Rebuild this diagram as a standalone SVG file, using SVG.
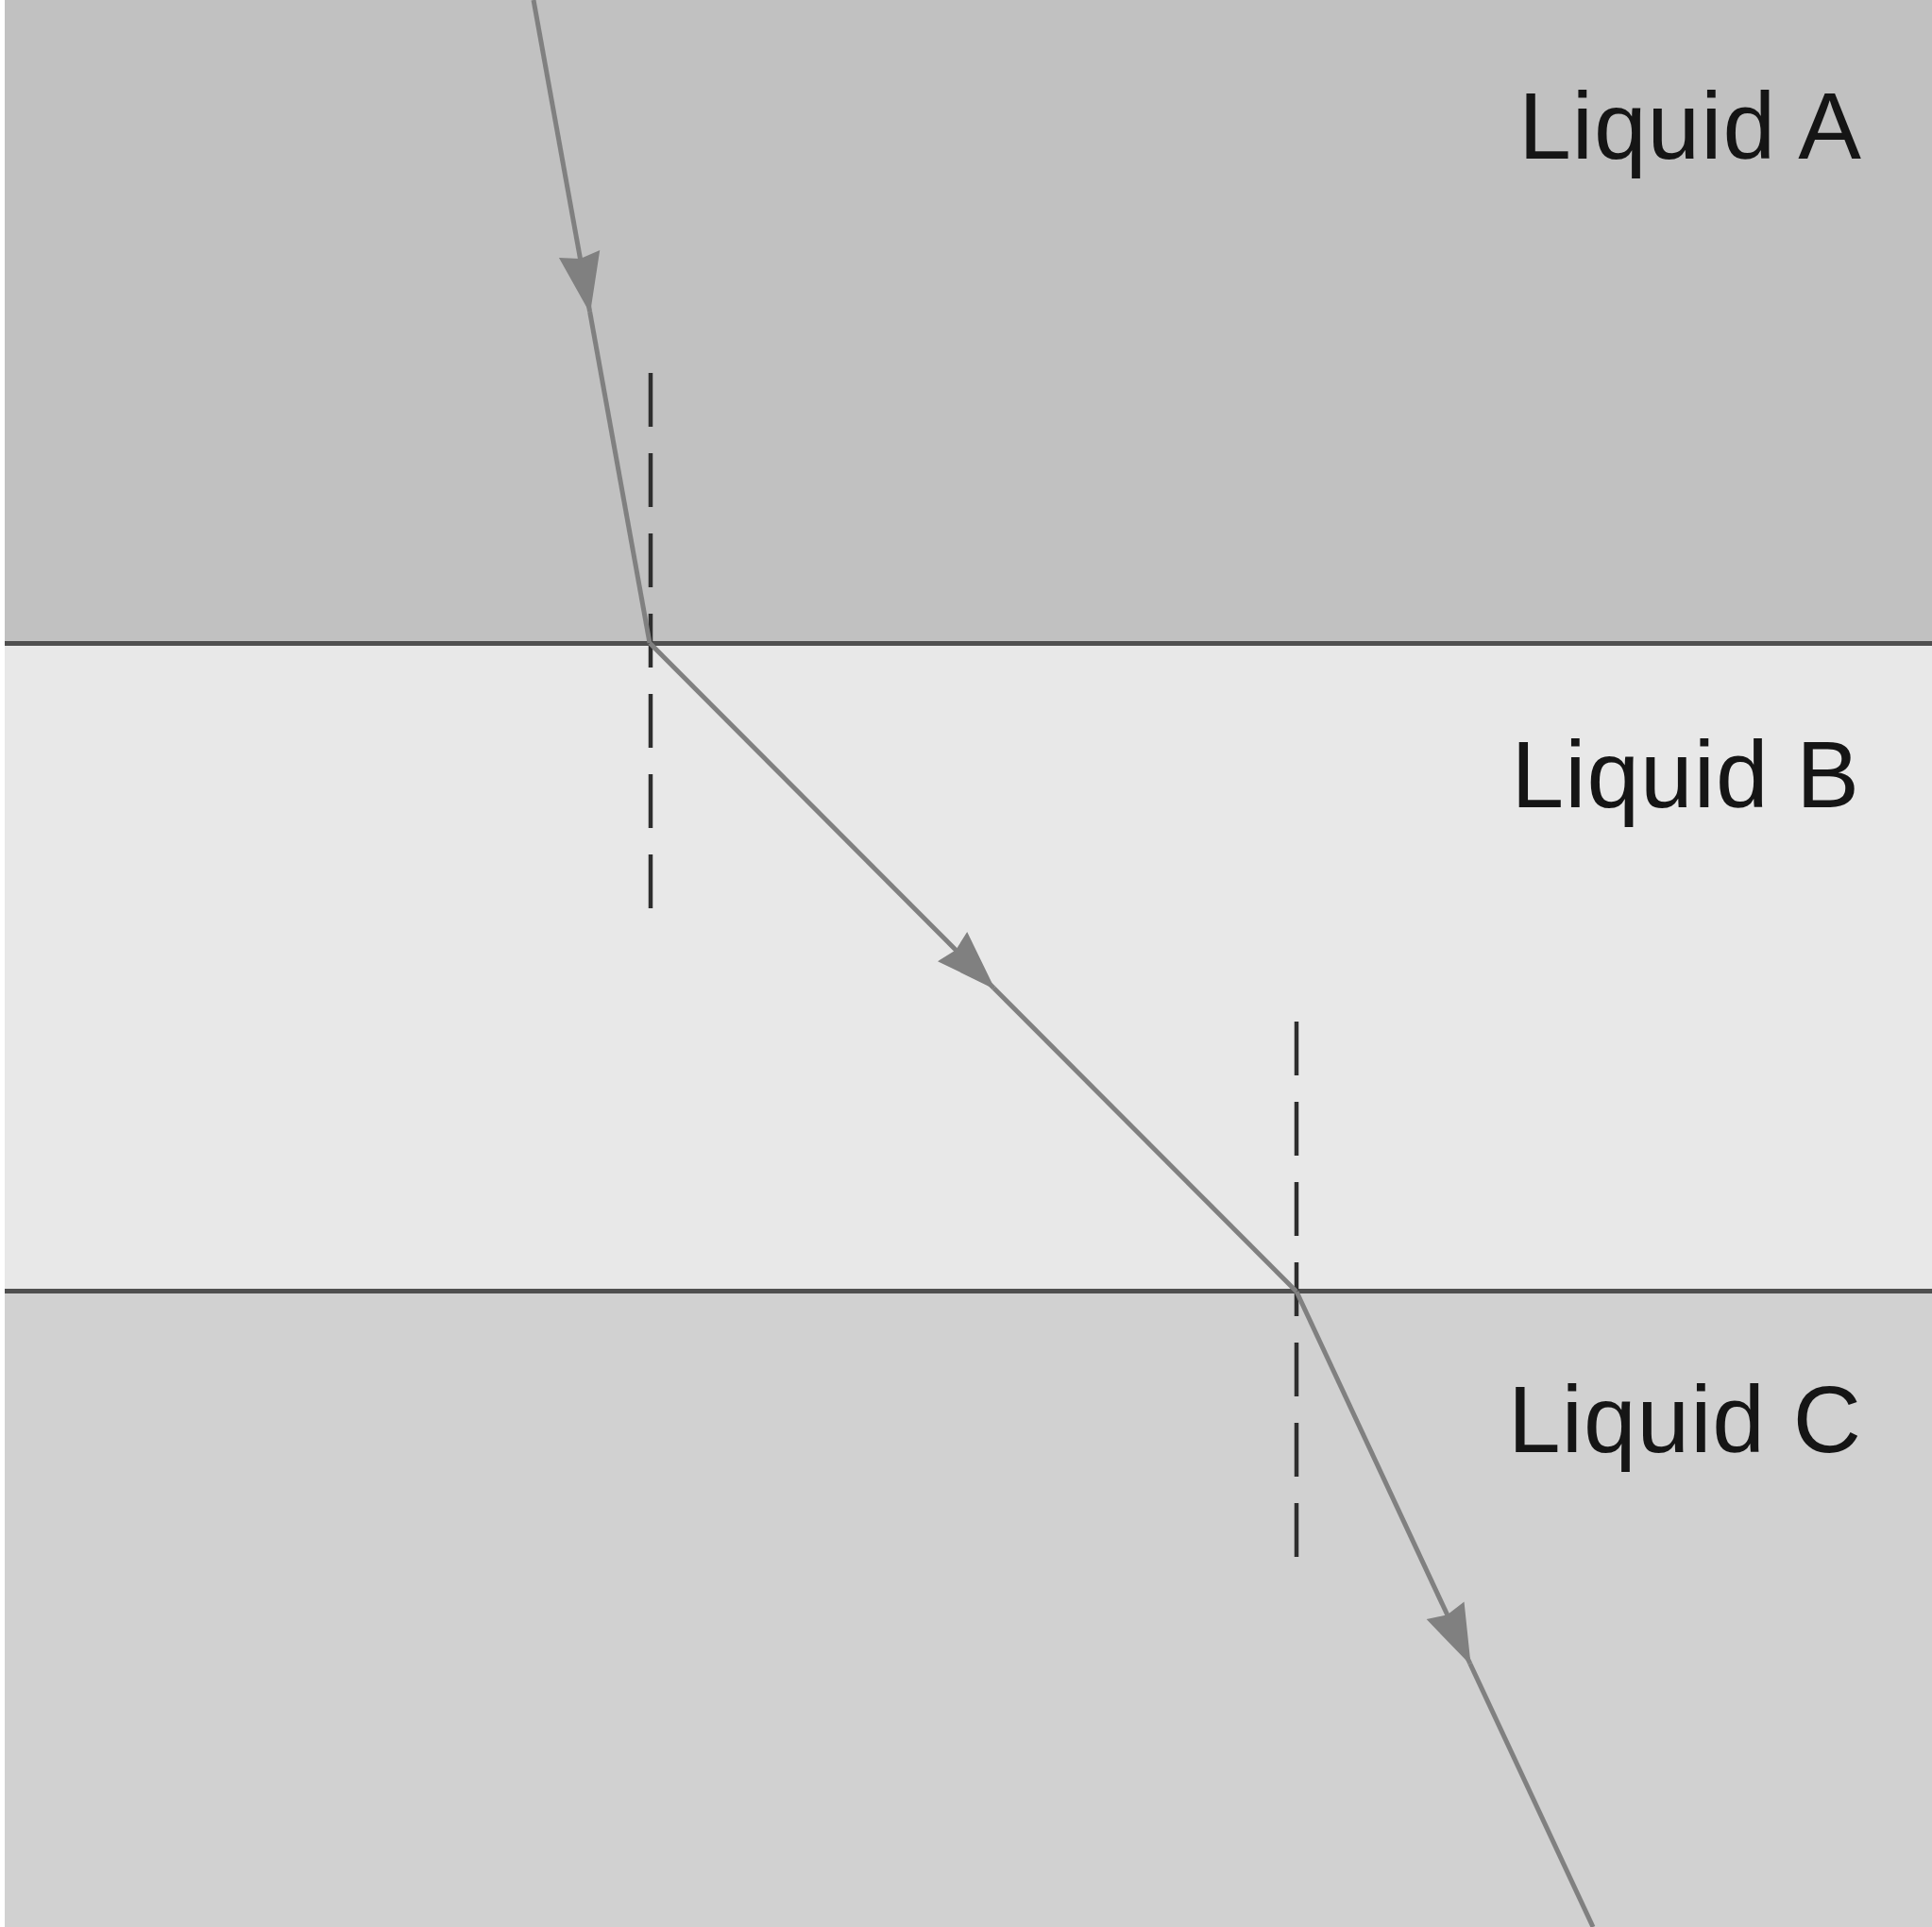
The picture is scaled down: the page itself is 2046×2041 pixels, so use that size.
<svg xmlns="http://www.w3.org/2000/svg" width="2046" height="2041" viewBox="0 0 2046 2041">
  <style>
    .label { font-family: "Liberation Sans", Arial, sans-serif; font-size: 100px; fill: #151515; text-anchor: end; letter-spacing: 1px; }
    .boundary { stroke: #4f4f4f; stroke-width: 5; fill: none; }
    .normal { stroke: #2e2e2e; stroke-width: 4.5; stroke-dasharray: 57 28; fill: none; }
    .ray { stroke: #808080; stroke-width: 5; fill: none; }
  </style>
  <defs>
    <marker id="arrow" markerUnits="userSpaceOnUse" viewBox="-66 -26 70 52" refX="0" refY="0" markerWidth="70" markerHeight="52" orient="auto">
      <path d="M2,0 L-62,-22 L-57,0 L-62,22 Z" fill="#808080"/>
    </marker>
  </defs>
  <rect x="0" y="0" width="2046" height="2041" fill="#ffffff"/>
  <g id="liquid-a">
    <rect x="5" y="0" width="2041" height="681" fill="#c1c1c1"/>
    <text class="label" x="1972" y="168">Liquid A</text>
  </g>
  <g id="liquid-b">
    <rect x="5" y="681" width="2041" height="687" fill="#e8e8e8"/>
    <text class="label" x="1970" y="855">Liquid B</text>
  </g>
  <g id="liquid-c">
    <rect x="5" y="1368" width="2041" height="673" fill="#d1d1d1"/>
    <text class="label" x="1972" y="1538">Liquid C</text>
  </g>
  <g id="boundaries">
    <line class="boundary" x1="5" y1="681.5" x2="2046" y2="681.5"/>
    <line class="boundary" x1="5" y1="1367.5" x2="2046" y2="1367.5"/>
  </g>
  <g id="normals">
    <line class="normal" x1="689" y1="395" x2="689" y2="964"/>
    <line class="normal" x1="1373" y1="1082" x2="1373" y2="1652"/>
  </g>
  <g id="connectors">
    <line class="ray" x1="565" y1="0" x2="624.6" y2="330" marker-end="url(#arrow)"/>
    <line class="ray" x1="624.6" y1="330" x2="688" y2="681"/>
    <line class="ray" x1="688" y1="681" x2="1052.4" y2="1046.5" marker-end="url(#arrow)"/>
    <line class="ray" x1="1052.4" y1="1046.5" x2="1373" y2="1368"/>
    <line class="ray" x1="1373" y1="1368" x2="1556.8" y2="1762" marker-end="url(#arrow)"/>
    <line class="ray" x1="1556.8" y1="1762" x2="1687" y2="2041"/>
  </g>
</svg>
